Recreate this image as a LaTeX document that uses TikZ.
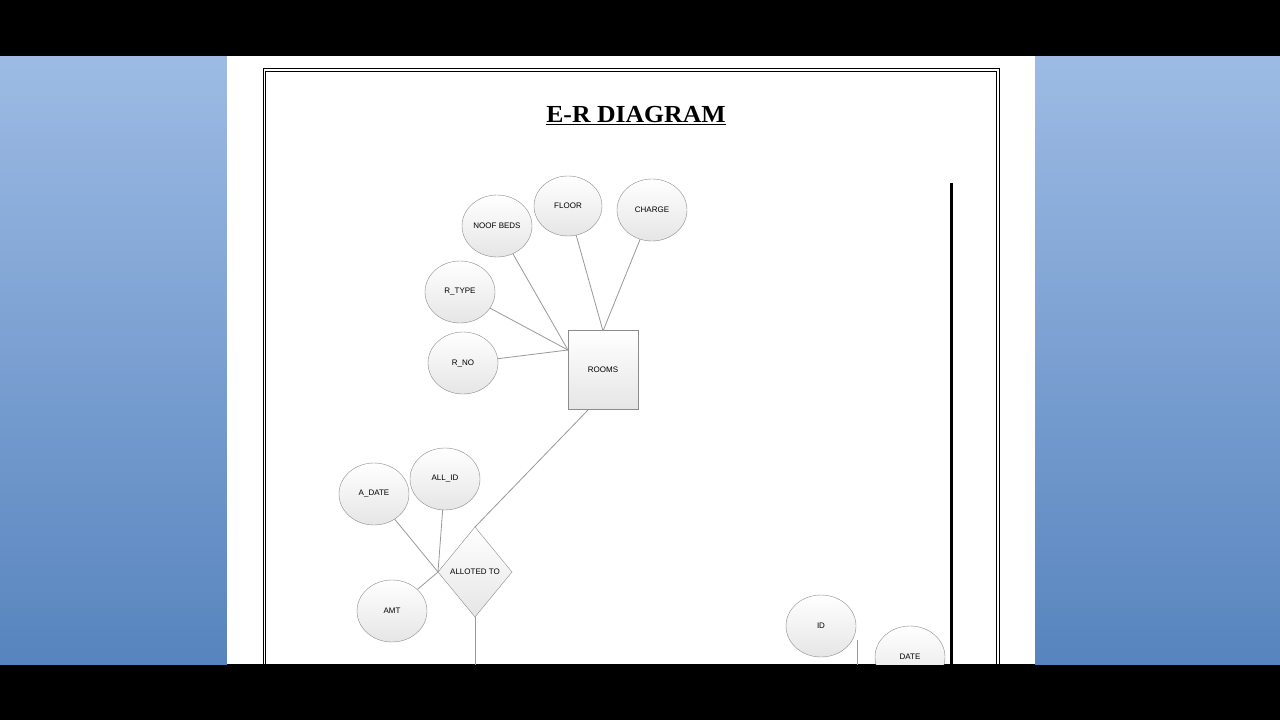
\documentclass[tikz,border=0pt]{standalone}
\usepackage{fontspec}
\setmainfont{Liberation Serif}
\newfontfamily\lab{Liberation Sans}
\usetikzlibrary{shapes.geometric}
\definecolor{bluetop}{HTML}{9DBBE4}
\definecolor{bluebot}{HTML}{5784BE}
\begin{document}
\begin{tikzpicture}[x=1pt,y=-1pt,
 attr/.style={ellipse,draw=gray!90,top color=white,bottom color=gray!20,minimum width=70pt,minimum height=62pt,inner sep=0pt,font=\lab\fontsize{8}{9}\selectfont},
 ln/.style={draw=gray!80,line width=0.8pt}]
\useasboundingbox (0,0) rectangle (1280,720);
\fill[black] (0,0) rectangle (1280,720);
\shade[top color=bluetop,bottom color=bluebot] (0,56) rectangle (227,664);
\shade[top color=bluetop,bottom color=bluebot] (1035,56) rectangle (1280,664);
\fill[white] (227,56) rectangle (1035,664);
\begin{scope}
\clip (227,56) rectangle (1035,664);
\draw[line width=0.8pt] (263,700) -- (263,68) -- (999,68) -- (999,700);
\draw[line width=0.5pt] (265,700) -- (265,71) -- (996,71) -- (996,700);
\draw[line width=3pt] (951,183) -- (951,700);
\node[font=\bfseries\fontsize{24.5}{26}\selectfont,xscale=1.05] (title) at (636,116) {\underline{E-R DIAGRAM}};
\node[attr] (beds) at (497,226) {NOOF BEDS};
\node[attr,minimum width=68pt,minimum height=60pt] (floor) at (568,206) {FLOOR};
\node[attr] (charge) at (652,210) {CHARGE};
\node[attr] (rtype) at (460,292) {R\_TYPE};
\node[attr] (rno) at (463,363) {R\_NO};
\node[draw=gray!90,top color=white,bottom color=gray!20,minimum width=70pt,minimum height=79pt,inner sep=0pt,font=\lab\fontsize{8}{9}\selectfont] (rooms) at (603,370) {ROOMS};
\node[attr] (adate) at (374,494) {A\_DATE};
\node[attr] (allid) at (445,479) {ALL\_ID};
\node[attr] (amt) at (392,611) {AMT};
\node[attr] (id) at (821,626) {ID};
\node[attr] (date) at (910,657) {DATE};
\coordinate (dt) at (475,527);
\coordinate (dl) at (438,572);
\coordinate (dr) at (512,572);
\coordinate (db) at (475,617);
\draw[draw=gray!90,top color=white,bottom color=gray!20] (dt) -- (dr) -- (db) -- (dl) -- cycle;
\node[font=\lab\fontsize{8}{9}\selectfont] (allot) at (475,572) {ALLOTED TO};
\coordinate (rl) at (568,350);
\coordinate (rt) at (603,331);
\coordinate (rb) at (588,410);
\coordinate (down) at (475,700);
\coordinate (iddown) at (857,700);
\draw[ln] (beds) -- (rl);
\draw[ln] (rtype) -- (rl);
\draw[ln] (rno) -- (rl);
\draw[ln] (floor) -- (rt);
\draw[ln] (charge) -- (rt);
\draw[ln] (rb) -- (dt);
\draw[ln] (adate) -- (dl);
\draw[ln] (allid) -- (dl);
\draw[ln] (amt) -- (dl);
\draw[ln] (db) -- (down);
\draw[ln] (857,640) -- (iddown);
\end{scope}
\end{tikzpicture}
\end{document}
